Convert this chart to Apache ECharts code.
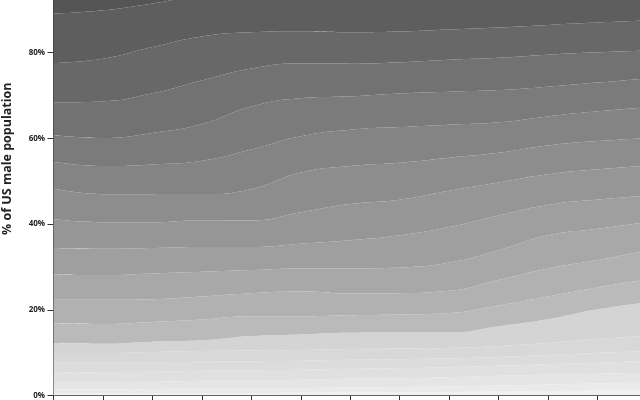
<!DOCTYPE html>
<html>
<head>
<meta charset="utf-8">
<script src="https://cdn.jsdelivr.net/npm/echarts@6/dist/echarts.min.js"></script>
<style>
html,body{margin:0;padding:0;background:#fff;overflow:hidden;width:640px;height:400px;}
#chart{width:720px;height:460px;margin-top:-37.5px;}
</style>
</head>
<body>
<div id="chart"></div>
<script>
// Census years (x positions of the ticks)
const years = ['1850','1860','1870','1880','1890','1900','1910','1920','1930','1940','1950','1960','1970'];
// Share of US male population (%) per age group, bottom layer first
const age90 = [0.46,0.46,0.51,0.58,0.58,0.62,0.69,0.74,0.81,0.92,1.04,1.16,1.39];
const age85 = [0.92,0.92,0.99,1.04,1.04,1.11,1.16,1.23,1.27,1.39,1.50,1.62,1.62];
const age80 = [1.62,1.73,1.73,1.85,1.97,1.97,2.08,2.08,2.20,2.31,2.31,2.31,2.31];
const age75 = [2.31,2.31,2.31,2.31,2.31,2.31,2.31,2.31,2.31,2.31,2.43,2.54,2.77];
const age70 = [2.31,2.20,2.20,2.08,2.08,2.08,2.08,2.08,2.08,2.08,2.20,2.31,2.31];
const age65 = [2.31,2.31,2.43,2.54,2.54,2.54,2.54,2.54,2.43,2.54,2.77,3.24,3.47];
const age60 = [2.31,2.15,2.38,2.47,3.35,3.63,3.77,3.70,3.58,4.62,5.55,6.94,7.86];
const age55 = [4.62,4.62,4.62,4.86,4.62,4.23,4.09,4.21,4.58,4.86,5.32,5.09,5.32];
const age50 = [5.48,5.64,5.32,5.39,5.39,5.78,5.09,4.99,5.18,5.94,6.54,6.40,6.87];
const age45 = [5.92,5.78,6.01,5.78,5.41,5.39,5.85,6.01,6.61,6.94,7.72,7.31,6.54];
const age40 = [6.17,6.15,5.94,5.78,5.39,5.78,6.57,7.49,8.25,8.09,7.08,6.80,6.17];
const age35 = [6.77,6.17,6.01,6.24,6.17,7.33,8.46,8.32,8.49,7.70,7.17,7.08,6.94];
const age30 = [7.10,6.54,6.54,6.08,7.31,9.25,8.88,8.62,7.70,6.94,6.71,6.57,6.54];
const age25 = [6.24,6.57,6.94,7.79,9.25,8.49,8.46,8.32,7.70,7.10,6.80,6.94,7.17];
const age20 = [6.17,6.54,7.33,8.55,10.03,8.86,7.79,7.86,7.72,7.54,6.94,6.71,6.71];
const age15 = [7.70,8.55,9.25,10.17,8.86,8.09,7.63,7.28,7.47,7.56,7.47,7.08,6.54];
const age10 = [9.18,9.94,10.80,10.29,8.49,7.56,7.33,7.17,7.05,7.05,6.94,6.94,6.98];
const age5  = [11.5,11.3,10.2,9.4,8.8,8.62,8.86,9.13,9.13,9.13,9.02,8.95,8.90];
const age0  = [10.9,10.1,8.5,6.8,6.4,6.36,6.36,5.90,5.43,4.97,4.51,4.05,3.58];

const groupNames = ['90+','85–89','80–84','75–79','70–74','65–69','60–64','55–59','50–54','45–49','40–44','35–39','30–34','25–29','20–24','15–19','10–14','5–9','0–4'];
const groupValues = [age90,age85,age80,age75,age70,age65,age60,age55,age50,age45,age40,age35,age30,age25,age20,age15,age10,age5,age0];

const grays = [240,234,229,224,220,216,212,186,177,168,159,150,141,132,123,114,104,94,85];

const series = groupNames.map((name, i) => ({
  name: name,
  type: 'line',
  stack: 'total',
  smooth: 0.5,
  symbol: 'none',
  showSymbol: false,
  lineStyle: {width: 0},
  areaStyle: {color: 'rgb(' + grays[i] + ',' + grays[i] + ',' + grays[i] + ')', opacity: 1},
  data: groupValues[i]
}));

const chart = echarts.init(document.getElementById('chart'), null, {renderer: 'canvas'});
chart.setOption({
  animation: false,
  backgroundColor: '#fff',
  grid: {left: 53.5, top: 0, height: 432.5, width: 593.4, containLabel: false},
  xAxis: {
    type: 'category', data: years, boundaryGap: false,
    axisLine: {show: true, lineStyle: {color: '#333', width: 1}},
    axisTick: {show: true, length: 6, lineStyle: {color: '#333'}},
    axisLabel: {show: true, color: '#222', fontSize: 8, fontWeight: 'bold', fontFamily: 'Open Sans'},
    splitLine: {show: false}
  },
  yAxis: {
    type: 'value', min: 0, max: 100, interval: 20,
    axisLine: {show: true, lineStyle: {color: '#333', width: 1}},
    axisTick: {show: true, length: 6, lineStyle: {color: '#333'}},
    axisLabel: {color: '#222', fontSize: 8, fontWeight: 'bold', fontFamily: 'Open Sans', margin: 8.5,
      formatter: v => v + '%'},
    splitLine: {show: false}
  },
  graphic: [{
    type: 'text',
    left: 0.5,
    top: 119.5,
    rotation: Math.PI / 2,
    style: {text: '% of US male population', fontSize: 12.5, fontWeight: 'bold', fontFamily: 'Open Sans', fill: '#222'}
  }],
  series: series
});
</script>
</body>
</html>
